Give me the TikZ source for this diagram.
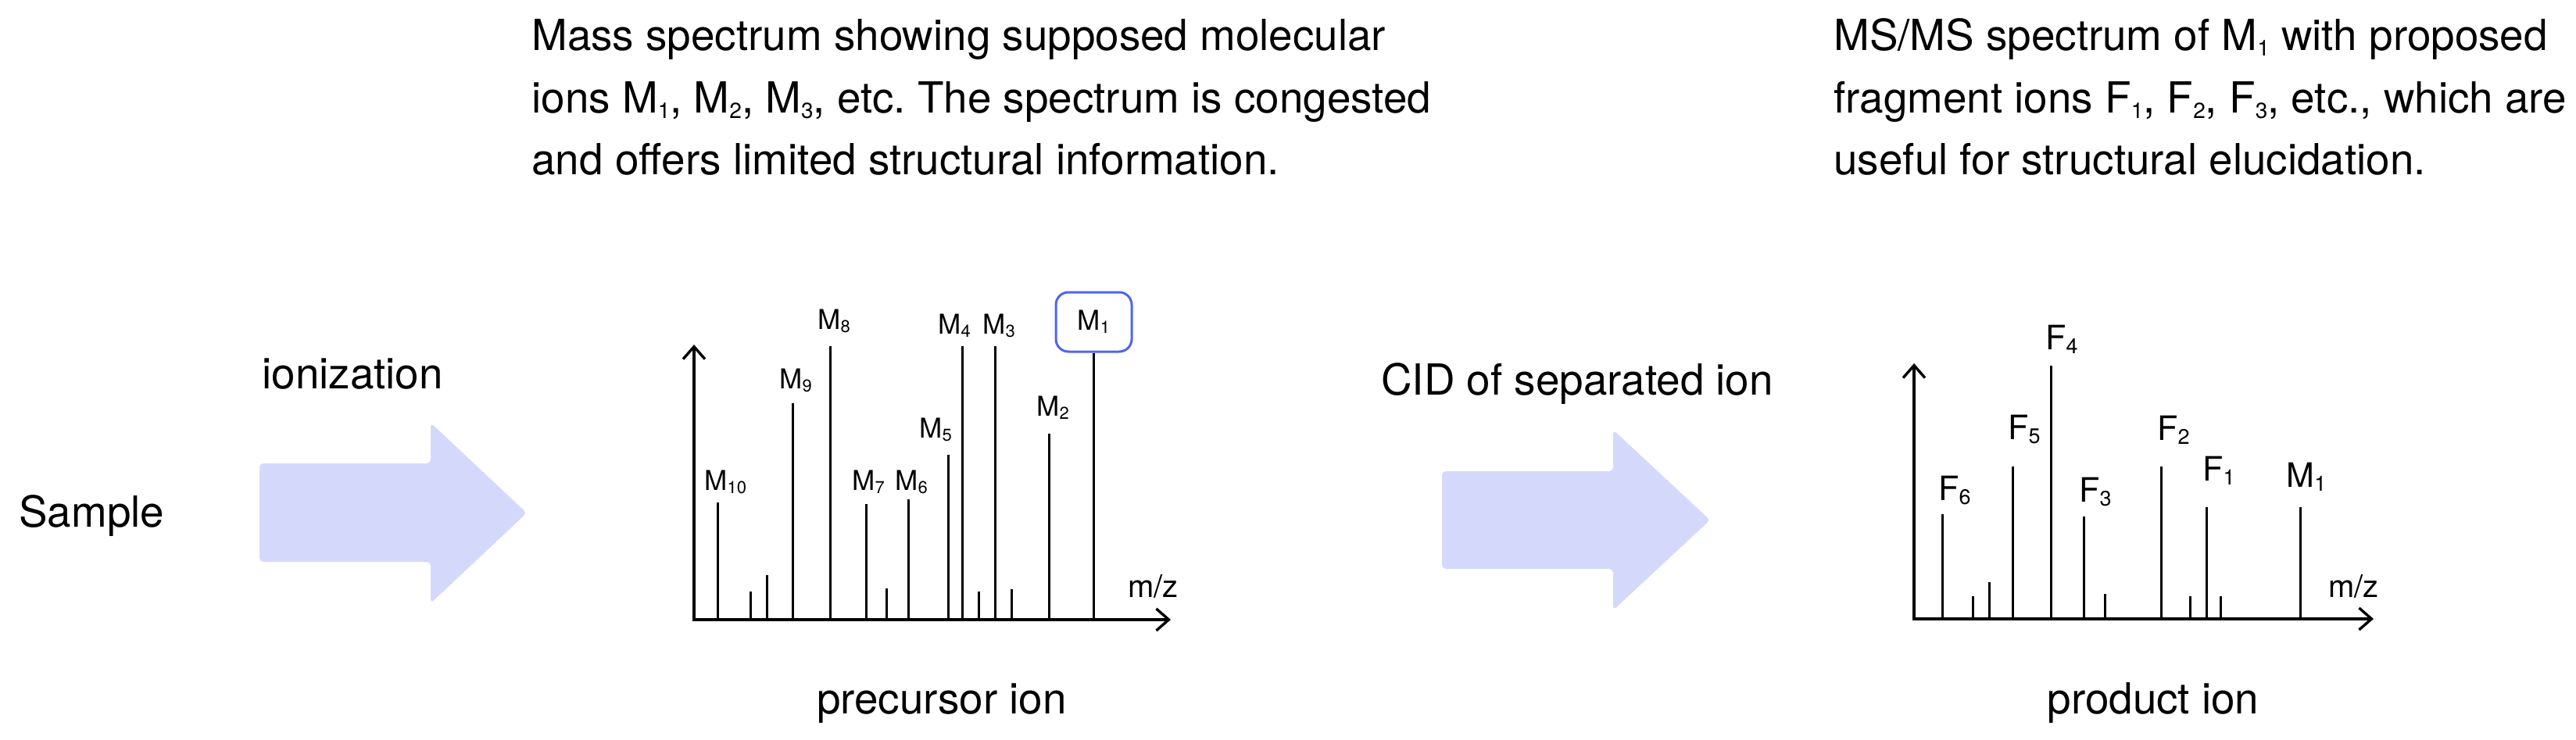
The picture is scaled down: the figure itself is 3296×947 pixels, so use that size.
\documentclass[tikz,border=0pt]{standalone}
\usepackage{fontspec}
\setmainfont{TeX Gyre Heros}
\usetikzlibrary{arrows.meta}
\definecolor{arrowfill}{RGB}{212,217,252}
\definecolor{boxblue}{RGB}{80,100,240}
\newcommand\subM[1]{\raisebox{-2pt}{\fontsize{11}{11}\selectfont #1}}
\newcommand\subF[1]{\raisebox{-2.5pt}{\fontsize{13.5}{13.5}\selectfont #1}}
\newcommand\subT[1]{\raisebox{-3.5pt}{\fontsize{14}{14}\selectfont #1}}
\frenchspacing
\begin{document}
\begin{tikzpicture}[x=0.5pt,y=-0.5pt,
  bigtext/.style={font=\fontsize{27.4}{33}\selectfont, inner sep=0pt, anchor=base west},
  bigcenter/.style={font=\fontsize{27.4}{33}\selectfont, inner sep=0pt, anchor=base},
  mlabel/.style={font=\fontsize{17.5}{20}\selectfont, inner sep=0pt, anchor=base west},
  flabel/.style={font=\fontsize{21.5}{24}\selectfont, inner sep=0pt, anchor=base west},
  mzlabel/.style={font=\fontsize{20}{24}\selectfont, inner sep=0pt, anchor=base west},
  axisline/.style={line width=1.7pt, line join=miter,
    {Straight Barb[length=8pt,width=14pt]}-{Straight Barb[length=8pt,width=14pt]}},
  peakline/.style={line width=1.5pt},
  bigarrow/.style={fill=arrowfill, draw=none, rounded corners=2.5pt},
]
\useasboundingbox (0,0) rectangle (3296,947);

% ---- top texts
\node[bigtext] (ta1) at (680,65) {Mass spectrum showing supposed molecular};
\node[bigtext] (ta2) at (680,144) {ions M\subT{1}, M\subT{2}, M\subT{3}, etc. The spectrum is congested};
\node[bigtext] (ta3) at (680,223) {and offers limited structural information.};
\node[bigtext] (tb1) at (2346,65) {MS/MS spectrum of M\subT{1} with proposed};
\node[bigtext] (tb2) at (2346,144) {fragment ions F\subT{1}, F\subT{2}, F\subT{3}, etc., which are};
\node[bigtext] (tb3) at (2346,223) {useful for structural elucidation.};

% ---- left part
\node[bigtext] (sample) at (24,674) {Sample};
\node[bigtext] (ioniz) at (335,497) {ionization};
\fill[bigarrow] (332,593) -- (551,593) -- (551,541) -- (674,656.5) -- (551,772) -- (551,719) -- (332,719) -- cycle;

% ---- spectrum 1
\coordinate (o1) at (888,793);
\draw[axisline] (888,441) -- (o1) -- (1498,793);
\foreach \px/\py in {918/643,960/757,981/736,1014/516,1062/443,1108/645,1134/753,1162/639,1213/582,1231/443,1252/757,1273/443,1294/754,1342/555}
  \draw[peakline] (\px,793) -- (\px,\py);
\node[draw=boxblue, line width=1.5pt, rounded corners=8pt, minimum width=48.5pt, minimum height=38pt, inner sep=0pt,
  font=\fontsize{17.5}{20}\selectfont] (m1box) at (1399.5,412) {M\subM{1}};
\draw[peakline] (m1box.south) -- (m1box.south |- o1);
\node[mlabel] (lm10) at (901,627) {M\subM{10}};
\node[mlabel] (lm9) at (997,497) {M\subM{9}};
\node[mlabel] (lm8) at (1046,421) {M\subM{8}};
\node[mlabel] (lm7) at (1090,627) {M\subM{7}};
\node[mlabel] (lm6) at (1145,627) {M\subM{6}};
\node[mlabel] (lm5) at (1176,560) {M\subM{5}};
\node[mlabel] (lm4) at (1200,427) {M\subM{4}};
\node[mlabel] (lm3) at (1257,427) {M\subM{3}};
\node[mlabel] (lm2) at (1326,532) {M\subM{2}};
\node[mzlabel] (mz1) at (1443,764) {m/z};
\node[bigcenter] (prec) at (1205,913) {precursor ion};

% ---- middle arrow
\node[bigcenter] (cid) at (2018,505) {CID of separated ion};
\fill[bigarrow] (1845,603) -- (2064,603) -- (2064,550) -- (2188,665.5) -- (2064,781) -- (2064,728) -- (1845,728) -- cycle;

% ---- spectrum 2
\coordinate (o2) at (2449,792);
\draw[axisline] (2449,465) -- (o2) -- (3037,792);
\foreach \px/\py in {2485/658,2524/763,2545/745,2575/597,2624/468,2666/661,2693/760,2765/597,2802/763,2823/649,2841/763,2943/649}
  \draw[peakline] (\px,792) -- (\px,\py);
\node[flabel] (lf6) at (2480,640) {F\subF{6}};
\node[flabel] (lf5) at (2569,562) {F\subF{5}};
\node[flabel] (lf4) at (2617,447) {F\subF{4}};
\node[flabel] (lf3) at (2660,642) {F\subF{3}};
\node[flabel] (lf2) at (2760,563) {F\subF{2}};
\node[flabel] (lf1) at (2818,615) {F\subF{1}};
\node[flabel] (lm1b) at (2925,623) {M\subF{1}};
\node[mzlabel] (mz2) at (2979,764) {m/z};
\node[bigcenter] (prod) at (2755,913) {product ion};
\end{tikzpicture}
\end{document}
